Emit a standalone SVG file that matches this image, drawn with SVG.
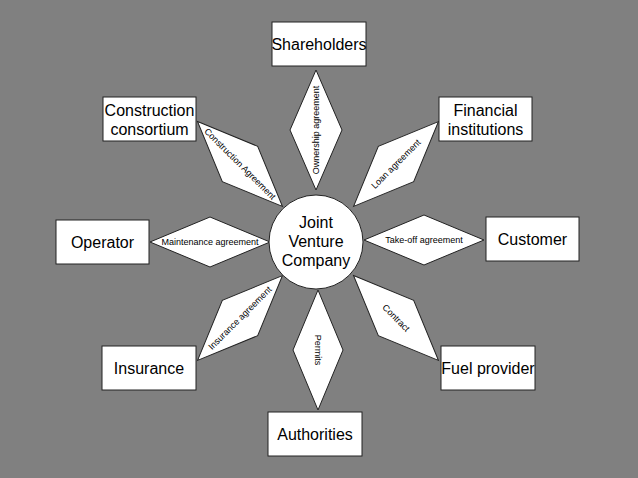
<svg xmlns="http://www.w3.org/2000/svg" width="638" height="478" viewBox="0 0 638 478">
<style>
.n{fill:#fff;stroke:#222;stroke-width:1}
.d{fill:#fff;stroke:#222;stroke-width:1}
.t{font-family:"Liberation Sans",Arial,sans-serif;font-size:16px;fill:#000;text-anchor:middle}
.s{font-family:"Liberation Sans",Arial,sans-serif;font-size:9px;fill:#000;text-anchor:middle}
</style>
<rect width="638" height="478" fill="#808080"/>
<g id="connectors">
<g transform="translate(316,130) rotate(-90)"><polygon class="d" points="-60,0 0,-26 60,0 0,26"/><text class="s" y="3">Ownership agreement</text></g>
<g transform="translate(318,350) rotate(90)"><polygon class="d" points="-60,0 0,-25 60,0 0,25"/><text class="s" y="3">Permits</text></g>
<g transform="translate(210,242)"><polygon class="d" points="-60,0 0,-25 60,0 0,25"/><text class="s" y="3">Maintenance agreement</text></g>
<g transform="translate(424,240)"><polygon class="d" points="-60,0 0,-25 60,0 0,25"/><text class="s" y="3">Take-off agreement</text></g>
<g transform="translate(240,164) rotate(45)"><polygon class="d" points="-60,0 0,-25 60,0 0,25"/><text class="s" y="3">Construction Agreement</text></g>
<g transform="translate(396,164) rotate(-45)"><polygon class="d" points="-60,0 0,-25 60,0 0,25"/><text class="s" y="3">Loan agreement</text></g>
<g transform="translate(240,318) rotate(-45)"><polygon class="d" points="-60,0 0,-25 60,0 0,25"/><text class="s" y="3">Insurance agreement</text></g>
<g transform="translate(396,318) rotate(45)"><polygon class="d" points="-60,0 0,-25 60,0 0,25"/><text class="s" y="3">Contract</text></g>
</g>
<g id="jv"><circle cx="316" cy="242" r="47" fill="#fff" stroke="#222"/><text class="t" x="316" y="228">Joint</text><text class="t" x="316" y="247">Venture</text><text class="t" x="316" y="266">Company</text></g>
<g id="shareholders"><rect class="n" x="272" y="22" width="94" height="44"/><text class="t" x="319" y="50">Shareholders</text></g>
<g id="construction"><rect class="n" x="103" y="97" width="93" height="44"/><text class="t" x="149.5" y="116">Construction</text><text class="t" x="149.5" y="135">consortium</text></g>
<g id="financial"><rect class="n" x="439" y="97" width="93" height="44"/><text class="t" x="485.5" y="116">Financial</text><text class="t" x="485.5" y="135">institutions</text></g>
<g id="operator"><rect class="n" x="56" y="220" width="93" height="44"/><text class="t" x="102.5" y="248">Operator</text></g>
<g id="customer"><rect class="n" x="486" y="217" width="93" height="44"/><text class="t" x="532.5" y="245">Customer</text></g>
<g id="insurance"><rect class="n" x="102" y="346" width="94" height="44"/><text class="t" x="149" y="374">Insurance</text></g>
<g id="fuel"><rect class="n" x="441" y="346" width="94" height="44"/><text class="t" x="488" y="374">Fuel provider</text></g>
<g id="authorities"><rect class="n" x="268" y="412" width="94" height="44"/><text class="t" x="315" y="440">Authorities</text></g>
</svg>
